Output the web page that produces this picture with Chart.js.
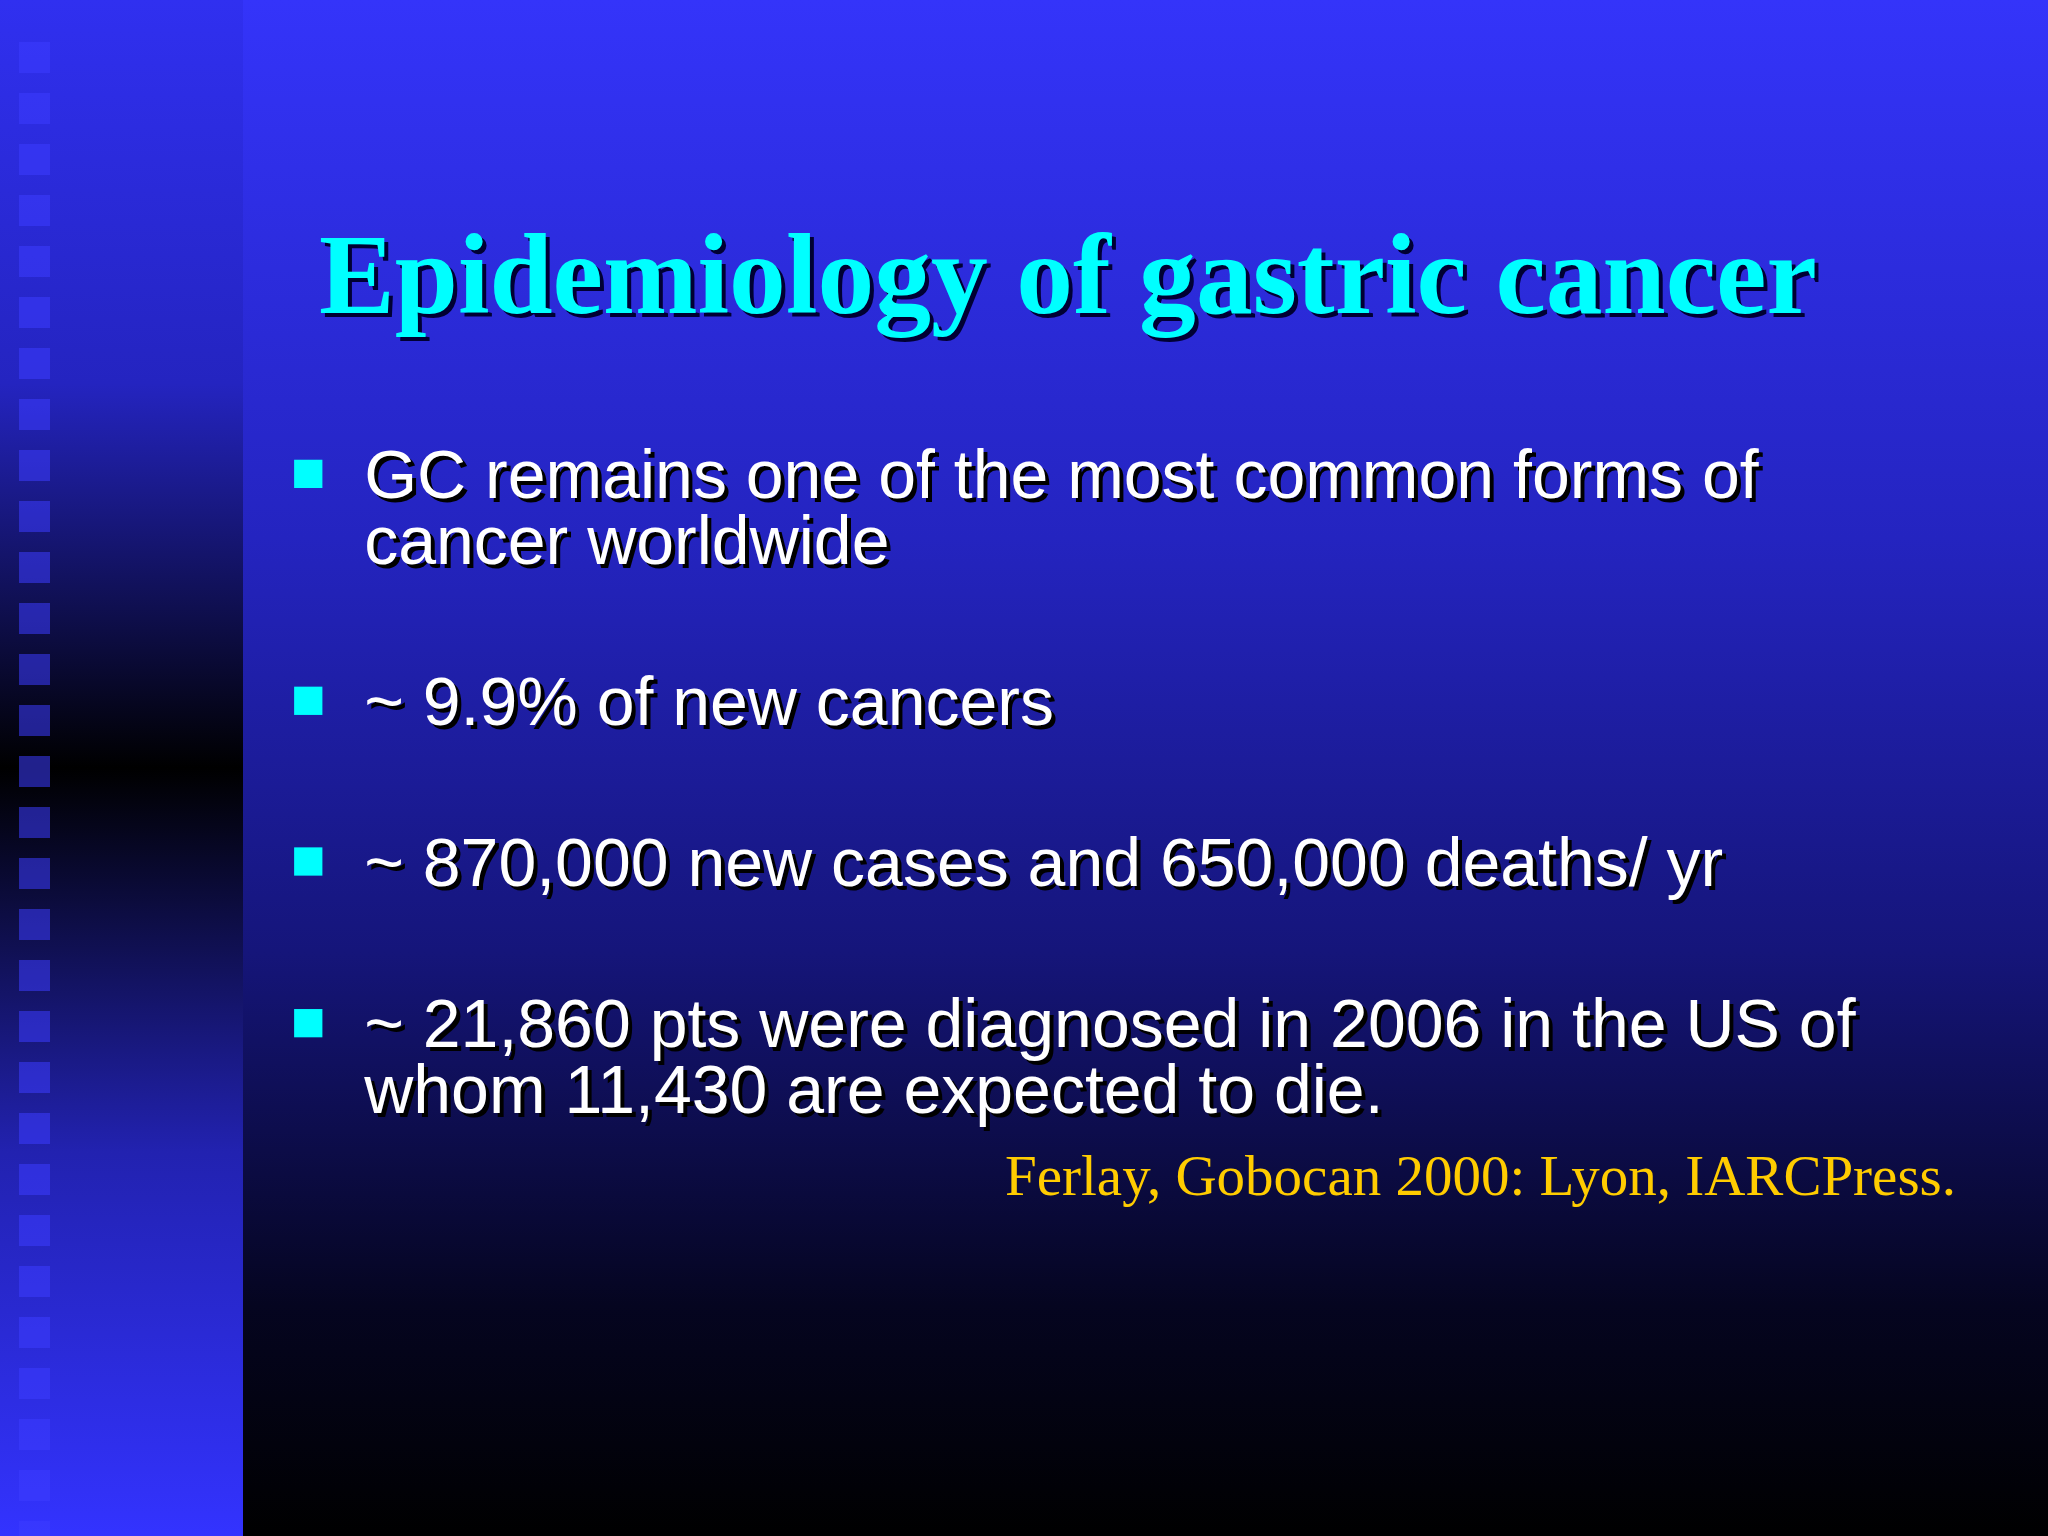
<!DOCTYPE html>
<html>
<head>
<meta charset="utf-8">
<script src="https://cdn.jsdelivr.net/npm/chart.js@4"></script>
<style>
  html, body { margin: 0; padding: 0; background: #000; }
  #wrap { width: 2048px; height: 1536px; position: relative; }
</style>
</head>
<body>
<div id="wrap"><canvas id="slide" width="2048" height="1536"></canvas></div>
<script>
// Slide content
const titleText = "Epidemiology of gastric cancer";
const bulletLines = [
    ["GC remains one of the most common forms of", "cancer worldwide"],
    ["~ 9.9% of new cancers"],
    ["~ 870,000 new cases and 650,000 deaths/ yr"],
    ["~ 21,860 pts were diagnosed in 2006 in the US of", "whom 11,430 are expected to die."]
];
const citation = "Ferlay, Gobocan 2000: Lyon, IARCPress.";

// layout (slide pixels), kept apart from the content
const bulletX = 294;
const bulletY = [466, 699, 864, 1030];
const textX = 351;
const lineGap = 66;

const slidePlugin = {
    id: "slide",
    beforeDraw(chart) {
        const c = chart.ctx;
        const W = chart.width, H = chart.height;
        // main background
        let g = c.createLinearGradient(0, 0, 0, H);
        g.addColorStop(0, "#3434fa");
        g.addColorStop(0.35, "#2424c0");
        g.addColorStop(0.62, "#15157a");
        g.addColorStop(0.85, "#050520");
        g.addColorStop(1, "#000000");
        c.fillStyle = g;
        c.fillRect(0, 0, W, H);
        // left strip
        g = c.createLinearGradient(0, 0, 0, H);
        g.addColorStop(0, "#3030f0");
        g.addColorStop(0.25, "#2424c0");
        g.addColorStop(0.5, "#000000");
        g.addColorStop(0.75, "#2222b0");
        g.addColorStop(1, "#3333ff");
        c.fillStyle = g;
        c.fillRect(0, 0, 243, H);
        // squares column
        for (let y = 42; y < H; y += 51) {
            c.fillStyle = "rgba(60,60,255,0.55)";
            c.fillRect(19, y, 31, 31);
        }
    },
    afterDatasetsDraw(chart) {
        const c = chart.ctx;
        const xs = chart.scales.x, ys = chart.scales.y;
        c.save();
        c.textBaseline = "alphabetic";
        // title
        let size = 100;
        c.font = `bold ${size}px "Liberation Serif", "Times New Roman", serif`;
        size = size * 1498 / c.measureText(titleText).width;
        c.font = `bold ${size}px "Liberation Serif", "Times New Roman", serif`;
        c.fillStyle = "#000033";
        c.fillText(titleText, 319 + 4, 313 + 4);
        c.fillStyle = "#00ffff";
        c.fillText(titleText, 319, 313);
        // bullet text
        c.font = `68px "Liberation Sans", Arial, sans-serif`;
        bulletLines.forEach((lines, i) => {
            const top = ys.getPixelForValue(bulletY[i]) + 24;
            lines.forEach((t, j) => {
                const y = top + j * lineGap;
                c.fillStyle = "#000000";
                c.fillText(t, xs.getPixelForValue(textX) + 4, y + 4);
                c.fillStyle = "#ffffff";
                c.fillText(t, xs.getPixelForValue(textX), y);
            });
        });
        // citation
        c.font = `57px "Liberation Serif", "Times New Roman", serif`;
        c.textAlign = "right";
        c.fillStyle = "#ffcc00";
        c.fillText(citation, 1956, 1195);
        c.restore();
    }
};

new Chart(document.getElementById("slide"), {
    type: "scatter",
    data: {
        datasets: [{
            data: bulletY.map(y => ({ x: bulletX, y: y })),
            pointStyle: "rect",
            pointRadius: 20,
            backgroundColor: "#00ffff",
            borderColor: "#00ffff",
            borderWidth: 0
        }]
    },
    options: {
        responsive: false,
        animation: false,
        layout: { padding: 0 },
        plugins: { legend: { display: false }, tooltip: { enabled: false } },
        scales: {
            x: { type: "linear", min: 0, max: 2048, display: false },
            y: { type: "linear", min: 0, max: 1536, reverse: true, display: false }
        }
    },
    plugins: [slidePlugin]
});
</script>
</body>
</html>
